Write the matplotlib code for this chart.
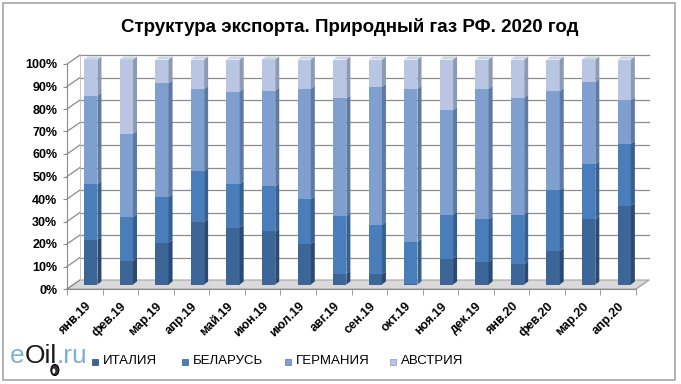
import numpy as np
import matplotlib
matplotlib.use("Agg")
import matplotlib.pyplot as plt
from matplotlib.patches import Polygon, Rectangle, Ellipse

# --- data (shares of export, %) ---
months = ['янв.19', 'фев.19', 'мар.19', 'апр.19', 'май.19', 'июн.19', 'июл.19', 'авг.19',
          'сен.19', 'окт.19', 'ноя.19', 'дек.19', 'янв.20', 'фев.20', 'мар.20', 'апр.20']
italy = [20.0, 10.5, 18.5, 27.8, 25.3, 23.6, 18.0, 4.8, 4.5, 0.3, 11.5, 10.0, 9.0, 15.0, 29.0, 35.0]
belarus = [24.7, 19.5, 20.3, 22.6, 19.4, 20.0, 20.0, 25.7, 22.0, 18.7, 19.5, 19.0, 22.0, 27.0, 24.5, 27.5]
germany = [39.3, 37.0, 50.7, 36.5, 41.0, 42.6, 49.0, 52.2, 61.5, 68.0, 46.5, 58.0, 52.0, 44.0, 36.5, 19.5]
austria = [16.0, 33.0, 10.5, 13.1, 14.3, 13.8, 13.0, 17.3, 12.0, 13.0, 22.5, 13.0, 17.0, 14.0, 10.0, 18.0]
series_names = ['ИТАЛИЯ', 'БЕЛАРУСЬ', 'ГЕРМАНИЯ', 'АВСТРИЯ']

# front / side / top colours per series
front_cols = ['#3C6598', '#4A7EBB', '#7F9FCF', '#B8C6E3']
side_cols = ['#2A4A72', '#36608F', '#5E7AA3', '#8C9AB6']
top_col = '#CDD7EC'

plt.rcParams['font.family'] = ['Liberation Sans', 'DejaVu Sans']

W, H = 681, 384
fig = plt.figure(figsize=(W / 100, H / 100), dpi=100)

# front plane of the 3d box, in pixels
fx0, fx1 = 67, 636
fy0, fy1 = 289, 64
ax = fig.add_axes([fx0 / W, (H - fy0) / H, (fx1 - fx0) / W, (fy0 - fy1) / H])
n = len(months)
ax.set_xlim(-0.5, n - 0.5)
ax.set_ylim(0, 1)

kx = n / (fx1 - fx0)      # data units per pixel
ky = 1.0 / (fy0 - fy1)

def off(px, py):
    return px * kx, py * ky

bx, by = off(13, 9)       # back wall depth
ox, oy = off(6, 4.5)      # bar position inside the box
dx, dy = off(4, 3)        # bar depth
bw = 13.3 * kx

grid_col = '#8C8C8C'
ticks = np.arange(0, 1.01, 0.1)

# floor
ax.add_patch(Polygon([(-0.5, 0), (n - 0.5, 0), (n - 0.5 + bx, by), (-0.5 + bx, by)],
                     closed=True, facecolor='#D9D9D9', edgecolor='#A6A6A6', lw=0.8,
                     clip_on=False, zorder=1))
# back wall grid and side wall lines
for v in ticks:
    if v > 0:
        ax.plot([-0.5 + bx, n - 0.5 + bx], [v + by, v + by], color=grid_col, lw=0.9,
                clip_on=False, zorder=1)
    ax.plot([-0.5, -0.5 + bx], [v, v + by], color=grid_col, lw=0.9, clip_on=False, zorder=1)
ax.plot([-0.5 + bx, -0.5 + bx], [by, 1 + by], color='#BFBFBF', lw=0.6, clip_on=False, zorder=1)

# bars
x = np.arange(n)
data = np.array([italy, belarus, germany, austria]) / 100.0
bottom = np.zeros(n)
for k in range(len(data)):
    vals = data[k]
    ax.bar(x + ox, vals, bw, bottom=bottom + oy, color=front_cols[k], edgecolor='none',
           zorder=3, clip_on=False)
    for i in range(n):
        xr = x[i] + ox + bw / 2
        y0 = bottom[i] + oy
        y1 = y0 + vals[i]
        ax.add_patch(Polygon([(xr, y0), (xr, y1), (xr + dx, y1 + dy), (xr + dx, y0 + dy)],
                             closed=True, facecolor=side_cols[k], edgecolor='none',
                             zorder=3, clip_on=False))
    bottom = bottom + vals
for i in range(n):
    xl = x[i] + ox - bw / 2
    yt = bottom[i] + oy
    ax.add_patch(Polygon([(xl, yt), (xl + bw, yt), (xl + bw + dx, yt + dy), (xl + dx, yt + dy)],
                         closed=True, facecolor=top_col, edgecolor='none',
                         zorder=3, clip_on=False))

# axes styling
for s in ['top', 'right']:
    ax.spines[s].set_visible(False)
ax.spines['left'].set_color(grid_col)
ax.spines['bottom'].set_color(grid_col)
ax.set_facecolor('none')
ax.set_yticks(ticks)
ax.set_yticklabels([f'{int(round(t * 100))}%' for t in ticks], fontsize=9, fontweight='bold')
ax.tick_params(axis='y', length=3, color=grid_col, pad=4)
ax.set_xticks(np.arange(-0.5, n, 1.0), minor=True)
ax.set_xticks(x)
ax.set_xticklabels(months, rotation=45, ha='right', rotation_mode='anchor',
                   fontsize=9, fontweight='bold')
ax.tick_params(axis='x', which='major', length=0, pad=8)
ax.tick_params(axis='x', which='minor', length=4, color=grid_col)
ax.plot([n - 0.5, n - 0.5 + bx], [0, by], color='#A6A6A6', lw=0.8, clip_on=False)

# title
fig.text(0.514, 1 - 27 / H, 'Структура экспорта. Природный газ РФ. 2020 год',
         ha='center', va='center', fontsize=13.5, fontweight='bold')

# legend
leg_x = [95, 185, 288, 393]
leg_y = 1 - 361.5 / H
for k, name in enumerate(series_names):
    fig.patches.append(Rectangle(((leg_x[k] - 3) / W, leg_y - 3 / H), 6 / W, 6 / H,
                                 transform=fig.transFigure, facecolor=front_cols[k],
                                 edgecolor=side_cols[k], lw=0.5))
    fig.text((leg_x[k] + 8) / W, leg_y, name, ha='left', va='center', fontsize=9.5)

# logo
lx, ly = 10 / W, 1 - 356 / H
t1 = fig.text(lx, ly, 'e', color='#7FB0DA', fontsize=19, va='center', ha='left')
fig.canvas.draw()
r = fig.canvas.get_renderer()
bb = t1.get_window_extent(r)
t2 = fig.text(bb.x1 / W, ly, 'Oil', color='#1A1A1A', fontsize=19, va='center', ha='left')
bb = t2.get_window_extent(r)
fig.text(bb.x1 / W, ly, '.ru', color='#7FB0DA', fontsize=19, va='center', ha='left')
fig.patches.append(Ellipse(((bb.x1 - 2) / W, 1 - 370 / H), 8 / W, 11 / H,
                           transform=fig.transFigure, facecolor='#303030',
                           edgecolor='black', lw=0.8))
fig.patches.append(Ellipse(((bb.x1 - 3) / W, 1 - 371 / H), 3 / W, 5 / H,
                           transform=fig.transFigure, facecolor='white',
                           edgecolor='none'))

# outer border
fig.patches.append(Rectangle((3 / W, 4 / H), 672 / W, 377 / H, transform=fig.transFigure,
                             facecolor='none', edgecolor='#A6A6A6', lw=1.2))

fig.savefig('out.png', dpi=100)
